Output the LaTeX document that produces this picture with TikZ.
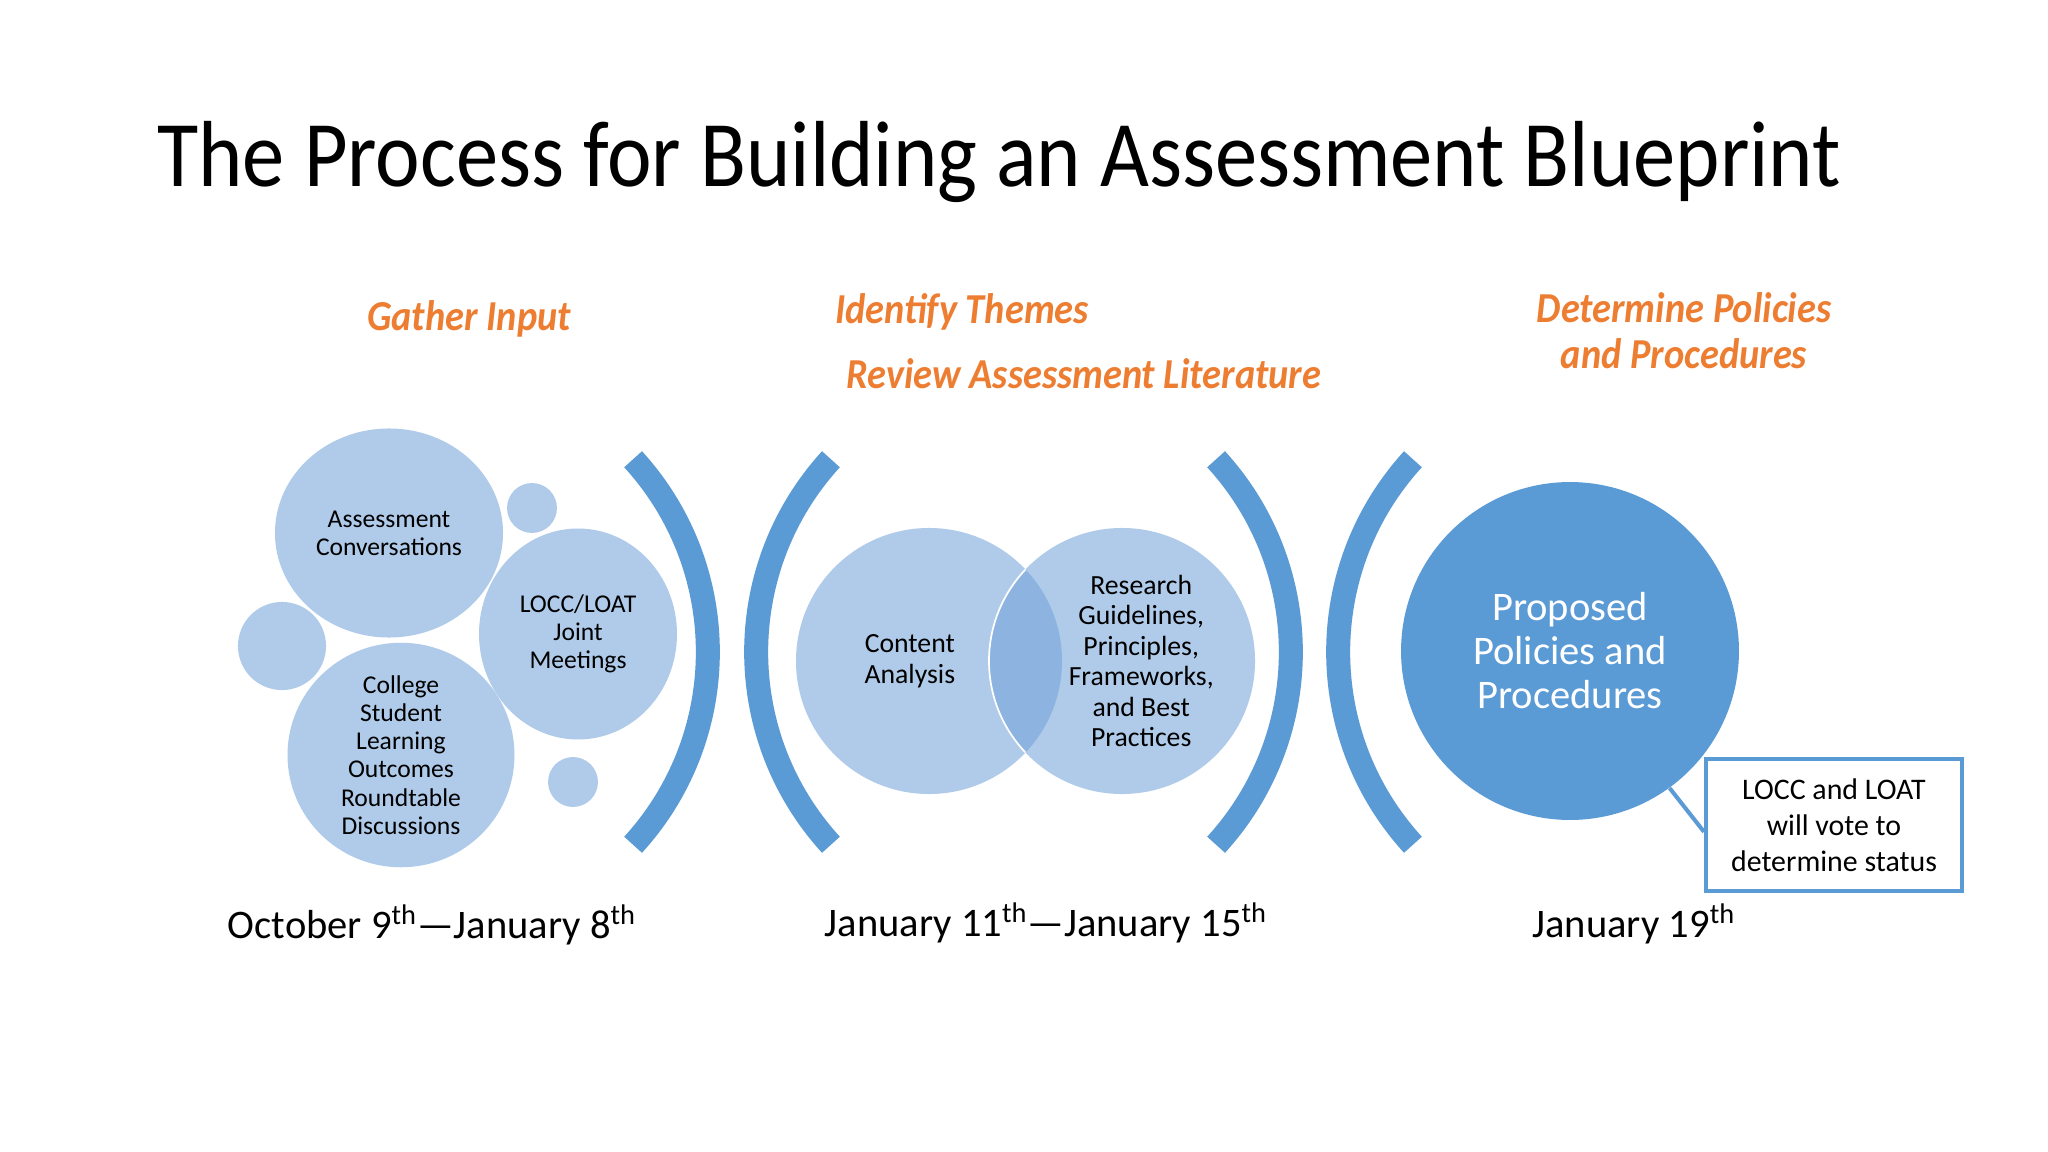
\documentclass[tikz,border=0pt]{standalone}
\usepackage{fontspec}
\setmainfont{Carlito}
\newfontfamily\narrowfont[FakeStretch=0.9]{Carlito}
\usetikzlibrary{shapes.geometric}
\definecolor{paleblue}{HTML}{AFCBE9}
\definecolor{midblue}{HTML}{5B9BD5}
\definecolor{overlapblue}{HTML}{8DB4E0}
\definecolor{accent}{HTML}{ED7D31}

\begin{document}
\begin{tikzpicture}[x=0.46875pt, y=-0.46875pt,
    bubble/.style={ellipse, fill=paleblue, inner sep=0pt, align=center,
                   font=\fontsize{12}{13.2}\selectfont},
    dot/.style={circle, fill=paleblue, inner sep=0pt},
    venn/.style={circle, fill=paleblue, inner sep=0pt, minimum size=124.7pt,
                 align=center, font=\fontsize{13}{14.3}\selectfont},
    paren/.style={draw=midblue, line width=11.25pt},
    phase/.style={text=accent, align=center,
                  font=\narrowfont\fontsize{20}{21.6}\selectfont\bfseries\itshape},
    datelbl/.style={anchor=base, font=\fontsize{19}{24}\selectfont},
    note/.style={draw=midblue, line width=1.9pt, fill=white, minimum width=120pt,
                 minimum height=61.9pt, align=center,
                 font=\fontsize{14}{16.9}\selectfont}
]
    \useasboundingbox[fill=white] (0,0) rectangle (2048,1152);

    % Title
    \node[anchor=base west, inner sep=0pt, font=\narrowfont\fontsize{44}{50}\selectfont]
        (title) at (157,187) {The Process for Building an Assessment Blueprint};

    % Phase headings
    \node[phase, anchor=base] (gather) at (469,331) {Gather Input};
    \node[phase, anchor=base] (themes) at (962,324) {Identify Themes};
    \node[phase, anchor=base] (review) at (1084,388) {Review Assessment Literature};
    \node[phase] (policies) at (1684,331) {Determine Policies\\and Procedures};

    % Gather input bubbles
    \node[dot, minimum size=41.3pt] (dotl) at (282,646) {};
    \node[dot, minimum size=23.4pt] (dott) at (532,508) {};
    \node[dot, minimum size=23.4pt] (dotb) at (573,782) {};
    \node[bubble, minimum width=106.9pt, minimum height=98pt] (conv) at (389,533)
        {Assessment\\Conversations};
    \node[bubble, minimum width=92.8pt, minimum height=98.9pt] (joint) at (578,634)
        {LOCC/LOAT\\Joint\\Meetings};
    \node[bubble, minimum width=106.4pt, minimum height=103.1pt] (round) at (401,755)
        {College\\Student\\Learning\\Outcomes\\Roundtable\\Discussions};

    % Themes venn
    \node[venn] (content) at (929,661) {Content\hspace*{18pt}\\Analysis\hspace*{18pt}};
    \node[venn] (research) at (1122,661) {\hspace*{18pt}Research\\\hspace*{18pt}Guidelines,\\\hspace*{18pt}Principles,\\\hspace*{18pt}Frameworks,\\\hspace*{18pt}and Best\\\hspace*{18pt}Practices};
    \begin{scope}
        \clip (content.center) circle[radius=62.35pt];
        \fill[overlapblue] (research.center) circle[radius=62.35pt];
        \draw[white, line width=0.8pt] (research.center) circle[radius=62.35pt];
    \end{scope}

    % Proposed policies
    \node[circle, fill=midblue, text=white, inner sep=0pt, minimum size=158.4pt,
          align=center, font=\fontsize{19}{20.6}\selectfont] (proposed) at (1570,651)
        {Proposed\\Policies and\\Procedures};
    \node[note] (vote) at (1834,825) {LOCC and LOAT\\will vote to\\determine status};
    \draw[midblue, line width=1.9pt] (proposed.-54) -- (vote.183);

    % Brackets
    \draw[paren] (422,652) ++(-42.4:134pt) arc[start angle=-42.4, end angle=42.4, radius=134pt];
    \draw[paren] (1042,652) ++(137.6:134pt) arc[start angle=137.6, end angle=222.4, radius=134pt];
    \draw[paren] (1005,652) ++(-42.4:134pt) arc[start angle=-42.4, end angle=42.4, radius=134pt];
    \draw[paren] (1624,652) ++(137.6:134pt) arc[start angle=137.6, end angle=222.4, radius=134pt];

    % Dates
    \node[datelbl] (date1) at (432,938) {October 9\textsuperscript{th}—January 8\textsuperscript{th}};
    \node[datelbl] (date2) at (1046,936) {January 11\textsuperscript{th}—January 15\textsuperscript{th}};
    \node[datelbl] (date3) at (1634,937) {January 19\textsuperscript{th}};
\end{tikzpicture}
\end{document}
